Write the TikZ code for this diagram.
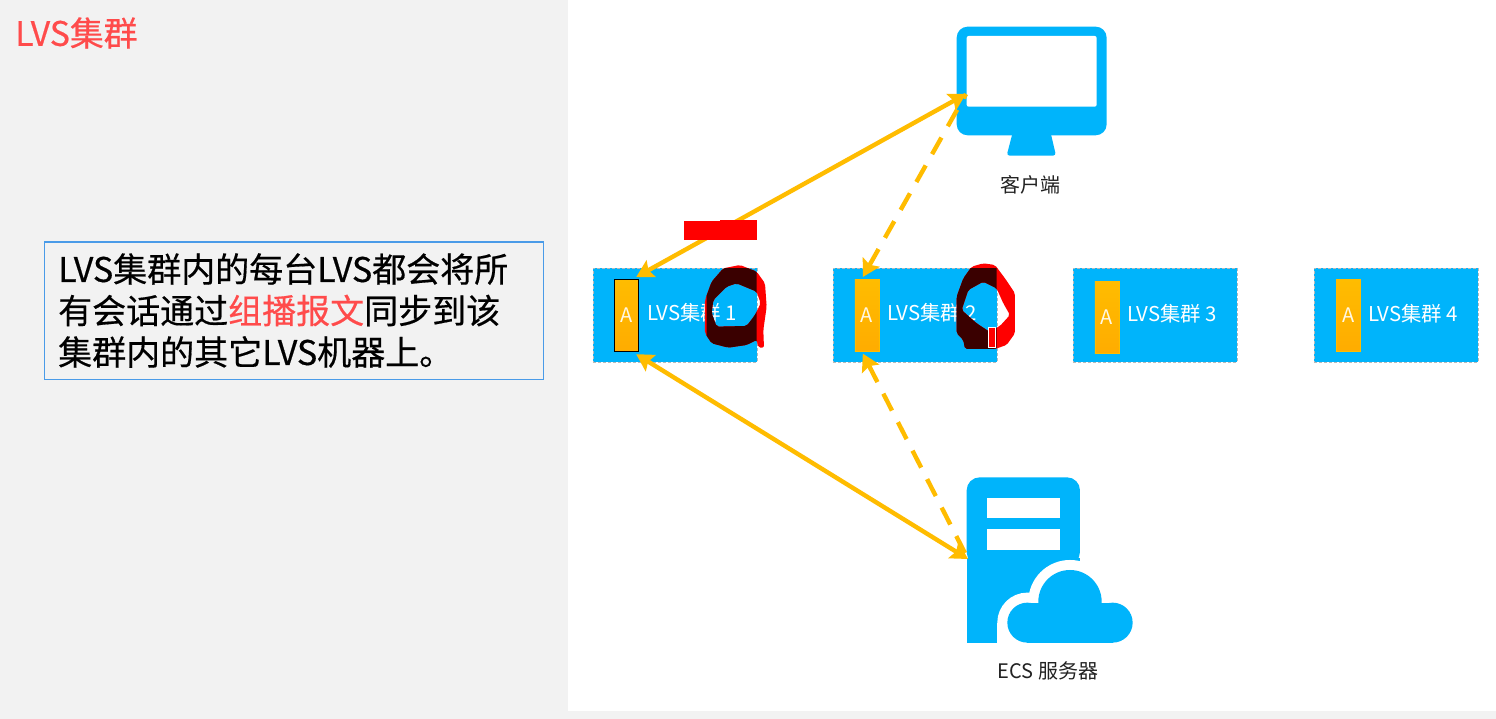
\documentclass[tikz,border=0pt]{standalone}
\usepackage{fontspec}
\setmainfont{Noto Sans CJK SC}
\newfontfamily\medfont[FakeBold=0.5]{Noto Sans CJK SC}
\usetikzlibrary{arrows.meta,calc}
\definecolor{bgray}{HTML}{F2F2F2}
\definecolor{sky}{HTML}{00B4FB}
\definecolor{amber}{HTML}{FFBC00}
\definecolor{amberlow}{HTML}{FFAC00}
\definecolor{redtxt}{HTML}{FF4B4B}
\definecolor{frameblue}{HTML}{4A9BE8}
\definecolor{scar}{HTML}{3A0000}
\definecolor{ink}{HTML}{222222}
\tikzset{
  lvsbox/.style={draw=gray!55,densely dashed,line width=0.8pt,fill=sky,minimum width=164pt,minimum height=94pt,anchor=north west,inner sep=0pt},
  abar/.style={top color=amber,bottom color=amberlow,draw=amber,line width=0.6pt,minimum width=24pt,minimum height=72pt,anchor=north west,inner sep=0pt,text=white!90!amber,font=\fontsize{20}{22}\selectfont},
  lvslabel/.style={text=white,font=\fontsize{20.4}{22}\selectfont,inner sep=0pt,anchor=west},
  iconlabel/.style={text=ink,font=\fontsize{20}{22}\selectfont,inner sep=0pt},
  link/.style={draw=amber,line width=4.4pt,{Stealth[length=17pt,width=19pt,inset=3pt]}-{Stealth[length=17pt,width=19pt,inset=3pt]}},
  dlink/.style={draw=amber,line width=4.4pt,{Stealth[length=17pt,width=19pt,inset=3pt]}-,dash pattern=on 19pt off 13pt},
}
\begin{document}
\begin{tikzpicture}[x=1pt,y=-1pt]
\useasboundingbox (0,0) rectangle (1496,719);
\fill[bgray] (0,0) rectangle (1496,719);
\fill[white] (568,0) rectangle (1496,711);
% left panel
\node[text=redtxt,font=\medfont\fontsize{33.8}{38}\selectfont,inner sep=0pt,anchor=west] (title) at (15,33) {LVS集群};
\node[draw=frameblue,line width=1.8pt,minimum width=499pt,minimum height=137pt,anchor=north west,inner sep=0pt] (frame) at (43.5,241.5) {};
\node[font=\medfont\fontsize{34}{41.5}\selectfont,align=left,inner sep=0pt,anchor=west,text=black] (desc) at (58,310.5) {LVS集群内的每台LVS都会将所\\有会话通过\textcolor{redtxt}{组播报文}同步到该\\集群内的其它LVS机器上。};
% monitor
\begin{scope}[shift={(930,10)},x=0.3333pt,y=-0.3333pt]
  \fill[sky,rounded corners=3pt] (250,360) -- (230,437) -- (378,437) -- (360,360) -- cycle;
  \fill[sky,rounded corners=11pt] (80,50) rectangle (530,376);
  \fill[white,rounded corners=2pt] (110,78) rectangle (500,290);
\end{scope}
\node[iconlabel] (clientlabel) at (1030,185) {客户端};
% server
\begin{scope}[shift={(940,465)},x=0.3333pt,y=-0.3333pt]
  \fill[sky,rounded corners=13pt] (80,300) -- (80,37) -- (420,37) -- (420,300) -- cycle;
  \fill[sky] (80,280) rectangle (420,535);
  \fill[white] (142,98) rectangle (360,160);
  \fill[white] (142,192) rectangle (360,254);
  \filldraw[white,line width=20pt] (262,473) circle[radius=60];
  \filldraw[white,line width=20pt] (390,410) circle[radius=95];
  \filldraw[white,line width=20pt] (518,473) circle[radius=60];
  \fill[white] (262,400) rectangle (518,533);
  \fill[white] (172,473) rectangle (262,535);
  \fill[white] (172,535) rectangle (620,575);
  \fill[sky] (262,473) circle[radius=60];
  \fill[sky] (390,410) circle[radius=95];
  \fill[sky] (518,473) circle[radius=60];
  \fill[sky] (262,413) rectangle (518,533);
\end{scope}
\node[iconlabel] (serverlabel) at (1048,671) {ECS 服务器};
% LVS boxes
\node[lvsbox] (b1) at (593,268) {};
\node[lvsbox] (b2) at (833,268) {};
\node[lvsbox] (b3) at (1073,268) {};
\node[lvsbox] (b4) at (1314,268) {};
\node[abar,draw=black,line width=1.2pt] (a1) at (614,279) {A};
\node[abar] (a2) at (854.5,279) {A};
\node[abar] (a3) at (1094.5,281) {A};
\node[abar] (a4) at (1336,279) {A};
\node[lvslabel] (l1) at (647,313) {LVS集群 1};
\node[lvslabel] (l2) at (887,313) {LVS集群 2};
\node[lvslabel] (l3) at (1127,314) {LVS集群 3};
\node[lvslabel] (l4) at (1368,314) {LVS集群 4};
% connectors
\coordinate (cin) at (966,94);
\coordinate (sin) at (968,559);
\draw[dlink] ($(a2.north)+(-4,-2)$) -- (cin);
\draw[dlink] ($(a2.south)+(-4,2)$) -- (sin);
\draw[link] (cin) -- ($(a1.north east)+(-3,-2)$);
\draw[link] ($(a1.south east)+(-3,2)$) -- (sin);
% red bar
\fill[red] (684,221) rectangle (757,240);
\fill[red] (720,220) rectangle (757,225);
% scribbles
\begin{scope}[shift={(580,200)},x=0.3333pt,y=-0.3333pt]
  \def\ringA{(375,300) -- (395,245) -- (430,205) -- (480,195) -- (530,215) -- (555,250) -- (560,320) -- (550,390) -- (552,443) -- (535,443) -- (530,420) -- (500,435) -- (445,443) -- (395,430) -- (375,400) -- cycle}
  \def\holeA{(395,340) -- (400,300) -- (440,260) -- (470,250) -- (530,275) -- (542,310) -- (525,345) -- (500,378) -- (410,380) -- cycle}
  \def\ringB{(1130,290) -- (1150,235) -- (1175,200) -- (1210,190) -- (1245,195) -- (1275,235) -- (1305,280) -- (1305,400) -- (1280,435) -- (1245,447) -- (1155,447) -- (1150,420) -- (1130,400) -- cycle}
  \def\holeB{(1145,330) -- (1165,270) -- (1210,245) -- (1250,265) -- (1270,310) -- (1290,345) -- (1260,378) -- (1228,395) -- (1190,370) -- cycle}
  \fill[red,even odd rule,rounded corners=2pt] \ringA \holeA;
  \begin{scope}
    \clip (380,207) rectangle (530,480);
    \fill[scar,even odd rule,rounded corners=2pt] \ringA \holeA;
  \end{scope}
  \fill[red,even odd rule,rounded corners=2pt] \ringB \holeB;
  \begin{scope}
    \clip (1100,207) rectangle (1250,480);
    \fill[scar,even odd rule,rounded corners=2pt] \ringB \holeB;
  \end{scope}
  \filldraw[fill=red,draw=white,line width=0.8pt] (1226,383) rectangle (1245,443);
\end{scope}
\end{tikzpicture}
\end{document}
